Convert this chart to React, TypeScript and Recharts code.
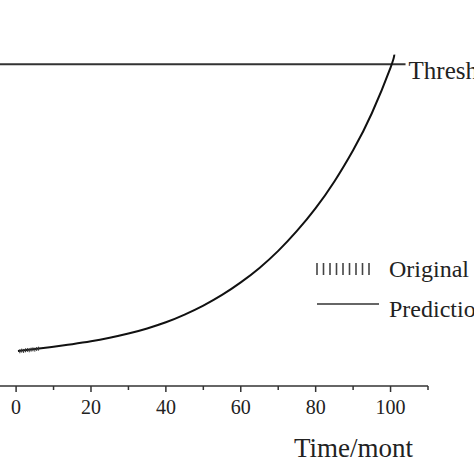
import {
  ComposedChart,
  Legend,
  Line,
  ReferenceLine,
  Scatter,
  XAxis,
  YAxis,
} from "recharts"

const serif = '"Liberation Serif", "Times New Roman", serif'

// prediction curve (months, normalised degradation)
const predMonths = [0.5, 5, 10, 15, 20, 25, 30, 35, 40, 45, 50, 55, 60, 65, 70, 75, 80, 85, 90, 95, 100, 101]
const predValues = [
  0.109, 0.115, 0.122, 0.13, 0.139, 0.15, 0.163, 0.179, 0.198, 0.222, 0.25, 0.283, 0.322, 0.367,
  0.42, 0.482, 0.553, 0.636, 0.733, 0.848, 0.99, 1.03,
]

// measured samples
const origMonths = [1, 1.5, 2, 2.5, 3, 3.5, 4, 4.5, 5, 5.5, 6]
const origValues = [0.108, 0.11, 0.109, 0.111, 0.112, 0.111, 0.113, 0.114, 0.113, 0.115, 0.116]

const threshold = 1.0
const thresholdEnd = 104

const xTicks = [0, 10, 20, 30, 40, 50, 60, 70, 80, 90, 100, 110]
const xLabels = [0, 20, 40, 60, 80, 100]
const xDomain: [number, number] = [-4.3, 110]
const yDomain: [number, number] = [0, 1.2]

const predictionData = predMonths.map((t, i) => ({ t, v: predValues[i] }))
const originalData = origMonths.map((t, i) => ({ t, v: origValues[i] }))

function XTick(props: any) {
  const { x, y, payload } = props
  const major = xLabels.includes(payload.value)
  return (
    <g>
      <line x1={x} x2={x} y1={y} y2={y + (major ? 6 : 4)} stroke="#333" strokeWidth={1.5} />
      {major ? (
        <text x={x} y={y + 28} textAnchor="middle" fontFamily={serif} fontSize={20} fill="#222">
          {payload.value}
        </text>
      ) : null}
    </g>
  )
}

const hatch = (props: any) => {
  const { cx, cy } = props
  return <line x1={cx} x2={cx} y1={cy - 2} y2={cy + 2} stroke="#333" strokeWidth={1} />
}

function LegendBox() {
  const marks = [0, 1, 2, 3, 4, 5, 6, 7, 8]
  return (
    <div style={{ position: "relative", width: 180, height: 80, fontFamily: serif, fontSize: 24, color: "#222" }}>
      <svg width={60} height={14} style={{ position: "absolute", left: 0, top: 7 }}>
        {marks.map((m) => (
          <line key={m} x1={1 + m * 6.5} x2={1 + m * 6.5} y1={1} y2={13} stroke="#444" strokeWidth={1.6} />
        ))}
      </svg>
      <div style={{ position: "absolute", left: 73, top: 2, lineHeight: "24px", whiteSpace: "nowrap" }}>Original</div>
      <svg width={64} height={4} style={{ position: "absolute", left: 1, top: 47 }}>
        <line x1={0} x2={62} y1={2} y2={2} stroke="#333" strokeWidth={1.6} />
      </svg>
      <div style={{ position: "absolute", left: 73, top: 42, lineHeight: "24px", whiteSpace: "nowrap" }}>Prediction</div>
    </div>
  )
}

export default function App() {
  return (
    <div style={{ position: "fixed", left: 0, top: 0, width: 474, height: 474, background: "#fff", overflow: "hidden" }}>
      <ComposedChart width={474} height={474} margin={{ top: 0, right: 46, bottom: 0, left: 0 }}>
        <XAxis
          type="number"
          dataKey="t"
          domain={xDomain}
          ticks={xTicks}
          allowDataOverflow
          height={88}
          tickSize={0}
          tickMargin={0}
          tick={<XTick />}
          axisLine={{ stroke: "#333", strokeWidth: 1.5 }}
          label={(p: any) => (
            <text x={p.viewBox.x + 294} y={p.viewBox.y + 71} fontFamily={serif} fontSize={27} fill="#222">
              Time/mont
            </text>
          )}
        />
        <YAxis type="number" domain={yDomain} hide allowDataOverflow />
        <ReferenceLine
          segment={[
            { x: xDomain[0], y: threshold },
            { x: thresholdEnd, y: threshold },
          ]}
          stroke="#333"
          strokeWidth={2}
          ifOverflow="visible"
          label={(p: any) => (
            <text
              x={p.viewBox.x + p.viewBox.width + 3}
              y={p.viewBox.y + 15}
              fontFamily={serif}
              fontSize={25}
              fill="#222"
            >
              Threshold
            </text>
          )}
        />
        <Line
          data={predictionData}
          dataKey="v"
          type="natural"
          stroke="#111"
          strokeWidth={2}
          dot={false}
          activeDot={false}
          isAnimationActive={false}
        />
        <Scatter data={originalData} dataKey="v" shape={hatch} isAnimationActive={false} />
        <Legend
          layout="vertical"
          align="center"
          verticalAlign="middle"
          content={() => <LegendBox />}
          wrapperStyle={{ position: "absolute", left: 316, top: 255, width: 180 }}
        />
      </ComposedChart>
    </div>
  )
}
